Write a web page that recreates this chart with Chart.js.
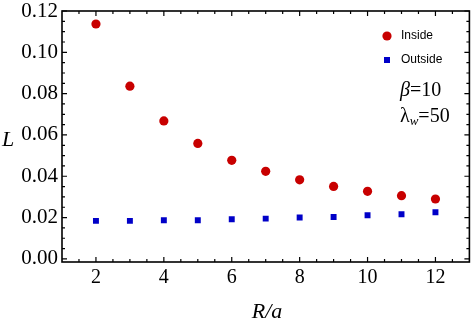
<!DOCTYPE html>
<html>
<head>
<meta charset="utf-8">
<script src="https://cdn.jsdelivr.net/npm/chart.js@4/dist/chart.umd.min.js"></script>
<style>
  html, body { margin: 0; padding: 0; background: #fff; }
  #wrap { width: 474px; height: 327px; }
</style>
</head>
<body>
<div id="wrap"><canvas id="chart" width="474" height="327"></canvas></div>
<script>
// R/a values
const rOverA = [2, 3, 4, 5, 6, 7, 8, 9, 10, 11, 12];
// L values
const insideL = [0.1137, 0.0836, 0.0668, 0.0559, 0.0477, 0.0424, 0.0383, 0.0351, 0.0327, 0.0306, 0.0290];
const outsideL = [0.0184, 0.0184, 0.0187, 0.0187, 0.0192, 0.0195, 0.0200, 0.0203, 0.0211, 0.0216, 0.0226];
const xTicks = [2, 4, 6, 8, 10, 12];
const yTicks = [0.00, 0.02, 0.04, 0.06, 0.08, 0.10, 0.12];

const RED = '#c80000';
const BLUE = '#0000c8';
const SERIF = '"Liberation Serif", "DejaVu Serif", serif';
const SANS = '"Liberation Sans", Arial, sans-serif';

// Mathematica-style frame: box with inward ticks on all four sides, plus labels
const framePlugin = {
    id: 'frame',
    afterDraw(chart) {
        const { ctx, chartArea: a, scales } = chart;
        const xs = scales.x, ys = scales.y;
        ctx.save();
        ctx.strokeStyle = '#000';
        ctx.lineWidth = 1.6;
        ctx.strokeRect(a.left, a.top, a.right - a.left, a.bottom - a.top);

        ctx.lineWidth = 1.2;
        ctx.beginPath();
        // x ticks every 0.5, major every 2
        for (let v = 1.5; v <= 12.5001; v += 0.5) {
            const px = xs.getPixelForValue(v);
            const len = (v % 2 === 0) ? 5 : 3;
            ctx.moveTo(px, a.bottom); ctx.lineTo(px, a.bottom - len);
            ctx.moveTo(px, a.top); ctx.lineTo(px, a.top + len);
        }
        // y ticks every 0.005, major every 0.02
        for (let i = 0; i <= 24; i++) {
            const v = i * 0.005;
            const py = ys.getPixelForValue(v);
            const len = (i % 4 === 0) ? 5 : 3;
            ctx.moveTo(a.left, py); ctx.lineTo(a.left + len, py);
            ctx.moveTo(a.right, py); ctx.lineTo(a.right - len, py);
        }
        ctx.stroke();

        // axis titles
        ctx.fillStyle = '#000';
        ctx.textAlign = 'center';
        ctx.textBaseline = 'middle';
        ctx.font = 'italic 22px ' + SERIF;
        ctx.fillText('R/a', 267, 312);
        ctx.fillText('L', 8, 140);

        // legend
        ctx.fillStyle = RED;
        ctx.beginPath(); ctx.arc(387, 36, 4.6, 0, Math.PI * 2); ctx.fill();
        ctx.fillStyle = BLUE;
        ctx.fillRect(384, 57, 6, 6);
        ctx.fillStyle = '#000';
        ctx.textAlign = 'left';
        ctx.font = '12px ' + SANS;
        ctx.fillText('Inside', 401, 36);
        ctx.fillText('Outside', 401, 60);

        // parameters
        ctx.font = 'italic 20px ' + SERIF;
        ctx.fillText('\u03B2', 400, 91);
        let w = ctx.measureText('\u03B2').width;
        ctx.font = '20px ' + SERIF;
        ctx.fillText('=10', 400 + w, 91);

        ctx.font = '20px ' + SERIF;
        ctx.fillText('\u03BB', 400, 117);
        w = ctx.measureText('\u03BB').width;
        ctx.font = 'italic 13px ' + SERIF;
        ctx.fillText('w', 400 + w, 122);
        const w2 = ctx.measureText('w').width;
        ctx.font = '20px ' + SERIF;
        ctx.fillText('=50', 400 + w + w2, 117);
        ctx.restore();
    }
};

new Chart(document.getElementById('chart'), {
    type: 'scatter',
    data: {
        datasets: [{
            label: 'Inside',
            data: rOverA.map((x, i) => ({ x: x, y: insideL[i] })),
            pointStyle: 'circle',
            pointRadius: 4.6,
            backgroundColor: RED,
            borderWidth: 0
        }, {
            label: 'Outside',
            data: rOverA.map((x, i) => ({ x: x, y: outsideL[i] })),
            pointStyle: 'rect',
            pointRadius: 4.2,
            backgroundColor: BLUE,
            borderWidth: 0
        }]
    },
    options: {
        responsive: false,
        animation: false,
        layout: { padding: { left: 0, right: 2, top: 11, bottom: 0 } },
        plugins: {
            legend: { display: false },
            tooltip: { enabled: false }
        },
        scales: {
            x: {
                type: 'linear',
                min: 1,
                max: 13,
                afterBuildTicks: (s) => { s.ticks = xTicks.map(v => ({ value: v })); },
                afterFit: (s) => { s.height = 65; s.paddingLeft = 0; s.paddingRight = 0; },
                grid: { display: false },
                border: { display: false },
                ticks: {
                    color: '#000',
                    padding: -4,
                    font: { family: SERIF, size: 20 }
                }
            },
            y: {
                min: -0.0015,
                max: 0.12,
                afterBuildTicks: (s) => { s.ticks = yTicks.map(v => ({ value: v })); },
                afterFit: (s) => { s.width = 62; s.paddingTop = 0; s.paddingBottom = 0; },
                grid: { display: false },
                border: { display: false },
                ticks: {
                    color: '#000',
                    padding: -4,
                    font: { family: SERIF, size: 21 },
                    callback: (v) => v.toFixed(2)
                }
            }
        }
    },
    plugins: [framePlugin]
});
</script>
</body>
</html>
